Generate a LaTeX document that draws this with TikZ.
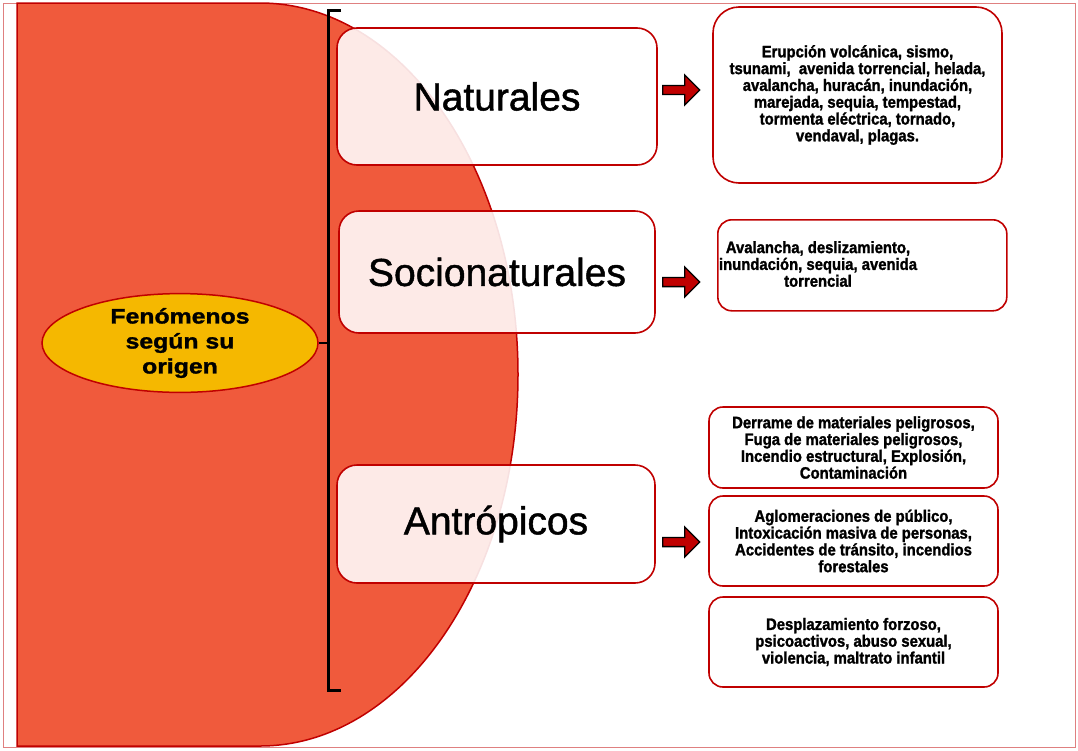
\documentclass[tikz,border=0pt]{standalone}
\usepackage{fontspec}
\setmainfont{Liberation Sans}
\newfontfamily\narrowf[FakeStretch=0.9,FakeBold=1.5]{Liberation Sans Bold}
\newfontfamily\titlef[FakeBold=1.2]{Liberation Sans}
\newfontfamily\ellf[FakeStretch=1.18,FakeBold=1.5]{Liberation Sans Bold}
\usetikzlibrary{shapes.geometric,shapes.arrows,calc}
\definecolor{dred}{HTML}{C00000}
\definecolor{dshape}{HTML}{F05A3C}
\definecolor{gold}{HTML}{F5B800}
\tikzset{
  catbox/.style={draw=dred,line width=1.6pt,rounded corners=20pt,fill=white,fill opacity=0.88,text opacity=1,minimum width=#1,font=\titlef\fontsize{39}{40}\selectfont},
  listbox/.style={draw=dred,line width=1.6pt,rounded corners=14pt,fill=white,align=center,font=\narrowf\fontsize{16.5}{16.8}\selectfont},
  barrow/.style={single arrow,draw=black,line width=1.3pt,fill=dred,minimum height=37pt,minimum width=30pt,single arrow head extend=6pt,inner sep=2pt}
}
\begin{document}
\begin{tikzpicture}[x=1pt,y=-1pt]
\useasboundingbox (0,0) rectangle (1078,750);
\draw[draw=dred!50,line width=0.8pt] (3,3) rectangle (1075,747);
\fill[dshape,draw=dred,line width=1.5pt] (17,3) -- (260,3) arc[start angle=90,end angle=-90,x radius=258,y radius=-371.5] -- (17,746) -- cycle;
\node[ellipse,draw=dred,line width=1.5pt,fill=gold,minimum width=276pt,minimum height=90pt,align=center,inner sep=0pt,font=\ellf\fontsize{21}{25}\selectfont] (e) at (180,343) {Fenómenos\\según su\\origen};
\coordinate (bt) at (328,10); \coordinate (bb) at (328,690); \coordinate (bm) at (328,343);
\draw[line width=3pt] ($(bt)+(13,0)$) -- (bt) -- (bb) -- ($(bb)+(13,0)$);
\draw[line width=2pt] (e.east) -- (bm);
\node[catbox=320pt,minimum height=137pt] (n) at (497,96.5) {Naturales};
\node[catbox=316pt,minimum height=122pt] (s) at (497,272) {Socionaturales};
\node[catbox=318pt,minimum height=118pt] (a) at (496,524) {Antrópicos};
\node[listbox,minimum width=289pt,minimum height=176pt,rounded corners=26pt] (ln) at (857.5,95) {Erupción volcánica, sismo,\\tsunami,\ \ avenida torrencial, helada,\\avalancha, huracán, inundación,\\marejada, sequia, tempestad,\\tormenta eléctrica, tornado,\\vendaval, plagas.};
\node[listbox,minimum width=289pt,minimum height=91pt,anchor=north west] (ls) at (717,219) {};
\node[font=\narrowf\fontsize{16.5}{16.8}\selectfont,align=center] (lst) at (818,264) {Avalancha, deslizamiento,\\inundación, sequia, avenida\\torrencial};
\node[listbox,minimum width=289pt,minimum height=81pt,inner sep=1pt] (l1) at (853.5,447.5) {Derrame de materiales peligrosos,\\Fuga de materiales peligrosos,\\Incendio estructural, Explosión,\\Contaminación};
\node[listbox,minimum width=289pt,minimum height=90pt,inner sep=1pt] (l2) at (853.5,541) {Aglomeraciones de público,\\Intoxicación masiva de personas,\\Accidentes de tránsito, incendios\\forestales};
\node[listbox,minimum width=289pt,minimum height=90pt] (l3) at (853.5,642) {Desplazamiento forzoso,\\psicoactivos, abuso sexual,\\violencia, maltrato infantil};
\node[barrow] (a1) at (679,90) {};
\node[barrow] (a2) at (679,282) {};
\node[barrow] (a3) at (679,542) {};
\end{tikzpicture}
\end{document}
